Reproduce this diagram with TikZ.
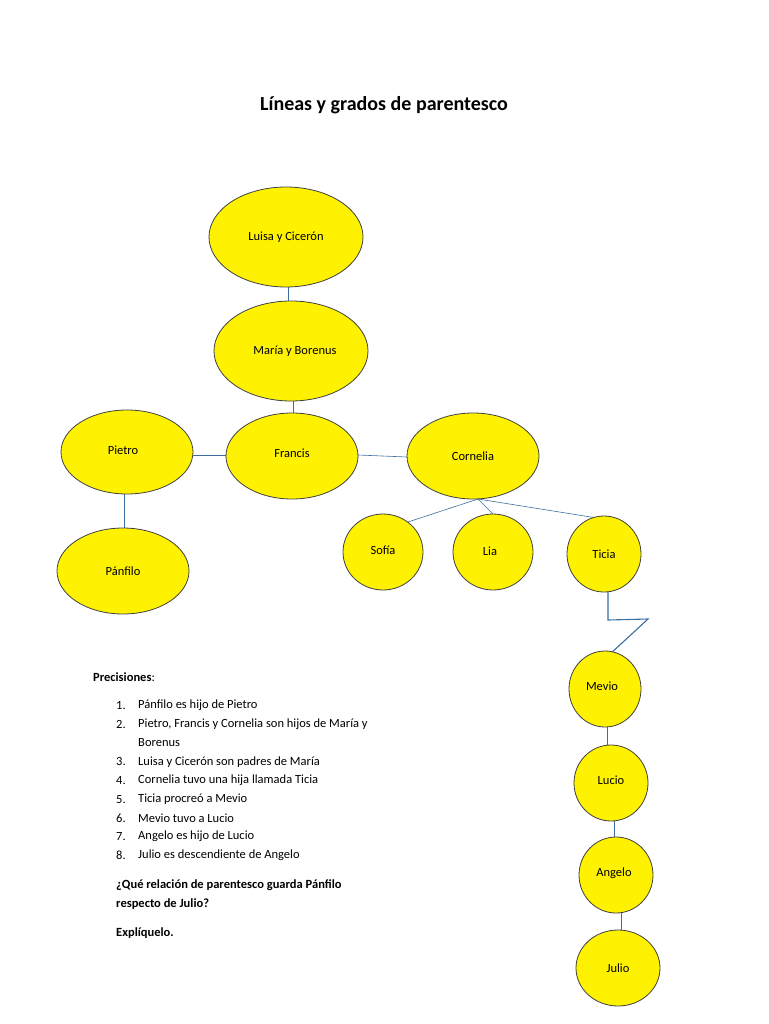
\documentclass[tikz,border=0pt]{standalone}
\usepackage{fontspec}
\setmainfont{Carlito}
\begin{document}
\begin{tikzpicture}[x=1pt,y=-1pt,
  el/.style={draw=black!80!blue,line width=0.8pt,fill=yellow,ellipse,minimum width=#1},
  conn/.style={draw=black!40!cyan!70!blue,line width=0.6pt},
  txt/.style={anchor=west,font=\fontsize{12.5}{14}\selectfont,inner sep=0pt}]
\useasboundingbox (0,0) rectangle (768,1024);
\newcommand{\elnode}[6]{\draw[draw=black!75,line width=0.8pt,fill=yellow] (#2,#3) ellipse [x radius=#4,y radius=#5];
  \node[font=\fontsize{12.5}{14}\selectfont] (#1) at (#2,#3) {#6};
  \coordinate (#1t) at (#2,#3-#5); \coordinate (#1b) at (#2,#3+#5);
  \coordinate (#1l) at (#2-#4,#3); \coordinate (#1r) at (#2+#4,#3);}
\node[font=\bfseries\fontsize{20}{24}\selectfont] (title) at (384,105) {Líneas y grados de parentesco};
% connectors first
\draw[conn] (288,287) -- (288,301);
\draw[conn] (293,401) -- (293,413);
\draw[conn] (193,455) -- (226,455);
\draw[conn] (358,455) -- (407,457);
\draw[conn] (124,494) -- (124,528);
\draw[conn] (478,499) -- (408,522);
\draw[conn] (478,499) -- (493,514);
\draw[conn] (478,499) -- (597,518);
\draw[conn,line width=1.1pt] (608,592) -- (608,620) -- (648,619) -- (609,655);
\draw[conn] (607,727) -- (607,745);
\draw[conn] (614,821) -- (614,837);
\draw[conn] (621,913) -- (621,930);
\elnode{luisa}{286}{237}{77}{50}{Luisa y Cicerón}
\elnode{maria}{291}{351}{77}{50}{\hspace*{8pt}María y Borenus}
\elnode{pietro}{127}{452}{66}{42}{\raisebox{4pt}{Pietro}\hspace*{8pt}}
\elnode{francis}{292}{456}{66}{43}{\raisebox{6pt}{Francis}}
\elnode{cornelia}{473}{456}{66}{43}{Cornelia}
\elnode{panfilo}{123}{571}{66}{43}{Pánfilo}
\elnode{sofia}{383}{552}{40}{38}{\raisebox{4pt}{Sofía}}
\elnode{lia}{493}{552}{40}{38}{\raisebox{2pt}{Lia}\hspace*{6pt}}
\elnode{ticia}{604}{554}{37}{38}{Ticia}
\elnode{mevio}{605}{689}{36}{38}{\raisebox{5pt}{Mevio}\hspace*{6pt}}
\elnode{lucio}{611}{783}{37}{38}{\raisebox{5pt}{Lucio}}
\elnode{angelo}{616}{875}{37}{38}{\raisebox{6pt}{Angelo}\hspace*{4pt}}
\elnode{julio}{618}{968}{42}{38}{Julio}
\node[txt] (prec) at (93,677) {\textbf{Precisiones}:};
\foreach \i/\t in {1/{Pánfilo es hijo de Pietro},2/{Pietro, Francis y Cornelia son hijos de María y},3/{Luisa y Cicerón son padres de María},4/{Cornelia tuvo una hija llamada Ticia},5/{Ticia procreó a Mevio},6/{Mevio tuvo a Lucio},7/{Angelo es hijo de Lucio},8/{Julio es descendiente de Angelo}}{
  \pgfmathsetmacro{\yy}{\i<3 ? 687+18.7*\i : 687+18.7*(\i+1)}
  \node[txt] (n\i) at (116,\yy) {\i.};
  \node[txt] (l\i) at (138,\yy) {\t};
}
\node[txt] (bor) at (138,743) {Borenus};
\node[txt] (q1) at (116,885) {\textbf{¿Qué relación de parentesco guarda Pánfilo}};
\node[txt] (q2) at (116,904) {\textbf{respecto de Julio?}};
\node[txt] (q3) at (116,933) {\textbf{Explíquelo.}};
\end{tikzpicture}
\end{document}
